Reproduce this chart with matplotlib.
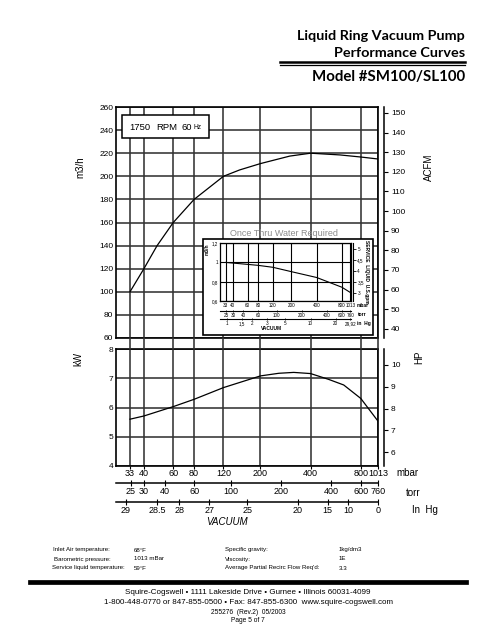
import matplotlib
matplotlib.use('Agg')
import matplotlib.pyplot as plt
import numpy as np
from matplotlib.patches import Rectangle
from matplotlib.lines import Line2D
from matplotlib.ticker import NullLocator
from matplotlib.transforms import blended_transform_factory

plt.rcParams['font.family'] = ['Liberation Sans', 'DejaVu Sans']

# ---------------- data ----------------
mbar_ticks = [33, 40, 60, 80, 120, 200, 400, 800, 1013]
mbar_labels = ['33', '40', '60', '80', '120', '200', '400', '800', '1013']
torr_ticks = [25, 30, 40, 60, 100, 200, 400, 600, 760]
torr_labels = ['25', '30', '40', '60', '100', '200', '400', '600', '760']
inhg_vac_ticks = [29, 28.5, 28, 27, 25, 20, 15, 10, 0]
inhg_vac_labels = ['29', '28.5', '28', '27', '25', '20', '15', '10', '0']
inhg_abs_ticks = [1, 1.5, 2, 3, 5, 10, 20, 29.92]
inhg_abs_labels = ['1', '1,5', '2', '3', '5', '10', '20', '29,92']

m3h_ticks = [60, 80, 100, 120, 140, 160, 180, 200, 220, 240, 260]
acfm_ticks = [40, 50, 60, 70, 80, 90, 100, 110, 120, 130, 140, 150]
kw_ticks = [4, 5, 6, 7, 8]
hp_ticks = [6, 7, 8, 9, 10]

capacity_mbar = [33, 40, 48, 60, 80, 100, 120, 150, 200, 300, 400, 600, 800, 1013]
capacity_m3h = [100, 120, 140, 160, 180, 191, 200, 205.5, 211, 217.5, 220, 218.5, 216.7, 215]

power_mbar = [33, 40, 60, 80, 120, 200, 258, 317, 400, 514, 632, 800, 1013]
power_kw = [5.60, 5.71, 6.03, 6.28, 6.68, 7.08, 7.17, 7.20, 7.16, 6.96, 6.77, 6.31, 5.54]

water_mbar = [33, 60, 80, 120, 200, 400, 800, 1013]
water_m3h = [1.0, 0.98, 0.97, 0.95, 0.905, 0.845, 0.745, 0.69]
water_ticks = [0.6, 0.8, 1.0, 1.2]
water_labels = ['0,6', '0,8', '1', '1,2']
gpm_ticks = [3, 3.5, 4, 4.5, 5]
gpm_labels = ['3', '3,5', '4', '4,5', '5']

# unit conversions
TORR_PER_MBAR = 0.750062
MBAR_PER_INHG = 33.8639
INHG_ATM = 29.92
M3H_PER_ACFM = 1.699
KW_PER_HP = 0.7457
M3H_PER_GPM = 0.22712

W, H = 495, 640
fig = plt.figure(figsize=(4.95, 6.4), dpi=100)
fig.patch.set_facecolor('white')


def fx(px):
    return px / W


def fy(py):
    return 1 - py / H


def axes_px(l, t, r, b, **kw):
    return fig.add_axes([fx(l), fy(b), (r - l) / W, (b - t) / H], **kw)


GRID = '#333333'
XLIM = (27.2, 1015)

# ---------------- top: capacity ----------------
ax1 = axes_px(116, 107, 378, 338)
ax1.set_xscale('log')
ax1.set_xlim(*XLIM)
ax1.set_ylim(60, 260)
ax1.set_xticks(mbar_ticks)
ax1.set_xticklabels([])
ax1.xaxis.set_minor_locator(NullLocator())
ax1.set_yticks(m3h_ticks)
ax1.tick_params(axis='both', length=0, labelsize=6, pad=2)
ax1.tick_params(axis='x', labelbottom=False)
ax1.grid(True, color=GRID, lw=1.15)
for s in ax1.spines.values():
    s.set_linewidth(1.2)
ax1.plot(capacity_mbar, capacity_m3h, color='black', lw=0.9, zorder=3)

sec1 = ax1.secondary_yaxis(1 + 6 / 262, functions=(lambda m: m / M3H_PER_ACFM,
                                                   lambda a: a * M3H_PER_ACFM))
sec1.set_yticks(acfm_ticks)
sec1.yaxis.set_minor_locator(NullLocator())
sec1.tick_params(length=3, width=0.8, labelsize=6, pad=2)
for s in sec1.spines.values():
    s.set_linewidth(1.1)

fig.text(fx(80), fy(167), 'm3/h', rotation=90, ha='center', va='center', fontsize=7)
fig.text(fx(429), fy(167), 'ACFM', rotation=90, ha='center', va='center', fontsize=7)

# RPM box
fig.add_artist(Rectangle((fx(121.7), fy(138.3)), (209.3 - 121.7) / W, (138.3 - 115) / H,
                         transform=fig.transFigure, facecolor='white', edgecolor='black',
                         lw=1.1, zorder=2))
for txt, px, fs in [('1750', 129.5, 6.8), ('RPM', 156, 6.8), ('60', 181.5, 6.8), ('Hz', 194, 4.8)]:
    fig.text(fx(px), fy(127.3), txt, ha='left', va='center', fontsize=fs, zorder=3)

# ---------------- bottom: power ----------------
ax2 = axes_px(116, 349, 378, 466)
ax2.set_xscale('log')
ax2.set_xlim(*XLIM)
ax2.set_ylim(4, 8)
ax2.set_xticks(mbar_ticks)
ax2.set_xticklabels(mbar_labels)
ax2.xaxis.set_minor_locator(NullLocator())
ax2.set_yticks(kw_ticks)
ax2.tick_params(axis='y', length=0, labelsize=6, pad=2)
ax2.tick_params(axis='x', length=2, width=0.8, labelsize=6.5, pad=0.5)
ax2.grid(True, color=GRID, lw=1.15)
for s in ax2.spines.values():
    s.set_linewidth(1.2)
ax2.plot(power_mbar, power_kw, color='black', lw=0.9, zorder=3)

sec2 = ax2.secondary_yaxis(1 + 6 / 262, functions=(lambda k: k / KW_PER_HP,
                                                   lambda h: h * KW_PER_HP))
sec2.set_yticks(hp_ticks)
sec2.yaxis.set_minor_locator(NullLocator())
sec2.tick_params(length=3, width=0.8, labelsize=6, pad=2)
for s in sec2.spines.values():
    s.set_linewidth(1.1)

fig.text(fx(78), fy(359), 'kW', rotation=90, ha='center', va='center', fontsize=7)
fig.text(fx(419), fy(357), 'HP', rotation=90, ha='center', va='center', fontsize=7)

# vertical lines through the gap
gap_tr = blended_transform_factory(ax1.transData, fig.transFigure)
for m in mbar_ticks:
    fig.add_artist(Line2D([m, m], [fy(338), fy(349)], transform=gap_tr, color=GRID, lw=1.15))

# torr axis
torr_ax = ax2.secondary_xaxis((466 - 483.3) / 117)
torr_ax.set_xticks([t / TORR_PER_MBAR for t in torr_ticks])
torr_ax.set_xticklabels(torr_labels)
torr_ax.xaxis.set_minor_locator(NullLocator())
torr_ax.tick_params(length=4, width=0.8, direction='inout', labelsize=6.5, pad=1)
for s in torr_ax.spines.values():
    s.set_linewidth(1.1)

# in Hg vacuum axis
hg_ax = ax2.secondary_xaxis((466 - 501.7) / 117)
hg_ax.set_xticks([(INHG_ATM - v) * MBAR_PER_INHG for v in inhg_vac_ticks])
hg_ax.set_xticklabels(inhg_vac_labels)
hg_ax.xaxis.set_minor_locator(NullLocator())
hg_ax.tick_params(length=4, width=0.8, direction='inout', labelsize=6.5, pad=1)
for s in hg_ax.spines.values():
    s.set_linewidth(1.1)

fig.text(fx(396), fy(472.7), 'mbar', ha='left', va='center', fontsize=7)
fig.text(fx(406), fy(492.7), 'torr', ha='left', va='center', fontsize=7)
fig.text(fx(412), fy(510), 'In  Hg', ha='left', va='center', fontsize=7)
fig.text(fx(227), fy(521.7), 'VACUUM', ha='center', va='center', fontsize=7, style='italic')

# ---------------- inset: service water ----------------
fig.add_artist(Rectangle((fx(202.5), fy(335.3)), (372.7 - 202.5) / W, (335.3 - 239) / H,
                         transform=fig.transFigure, facecolor='white', edgecolor='black',
                         lw=1.2, zorder=4))
fig.text(fx(284), fy(233), 'Once Thru Water Required', ha='center', va='center',
         fontsize=6.5, color='#8c8c8c', zorder=3)

axi = axes_px(220, 243, 350.5, 301.3, zorder=5)
axi.set_xscale('log')
axi.set_xlim(28.1, 1015)
axi.set_ylim(0.6, 1.2)
axi.set_xticks(mbar_ticks)
axi.set_xticklabels(mbar_labels)
axi.xaxis.set_minor_locator(NullLocator())
axi.set_yticks(water_ticks)
axi.set_yticklabels(water_labels)
axi.tick_params(axis='both', length=0, labelsize=3.3, pad=1.2)
axi.grid(True, color='black', lw=0.8)
for s in axi.spines.values():
    s.set_linewidth(0.9)
axi.plot(water_mbar, water_m3h, color='black', lw=0.8, zorder=3)

seci = axi.secondary_yaxis(1 + 2.6 / 130.5, functions=(lambda m: m / M3H_PER_GPM,
                                                       lambda g: g * M3H_PER_GPM))
seci.set_yticks(gpm_ticks)
seci.set_yticklabels(gpm_labels)
seci.yaxis.set_minor_locator(NullLocator())
seci.tick_params(length=2, width=0.6, labelsize=3.3, pad=1)
for s in seci.spines.values():
    s.set_linewidth(0.8)

itorr = axi.secondary_xaxis((301.3 - 310.7) / 58.3)
itorr.set_xticks([t / TORR_PER_MBAR for t in torr_ticks])
itorr.set_xticklabels(torr_labels)
itorr.xaxis.set_minor_locator(NullLocator())
itorr.tick_params(length=2, width=0.6, direction='inout', labelsize=3.3, pad=0.5)
for s in itorr.spines.values():
    s.set_linewidth(0.8)

ihg = axi.secondary_xaxis((301.3 - 319) / 58.3)
ihg.set_xticks([v * MBAR_PER_INHG for v in inhg_abs_ticks])
ihg.set_xticklabels(inhg_abs_labels)
ihg.xaxis.set_minor_locator(NullLocator())
ihg.tick_params(length=2, width=0.6, direction='inout', labelsize=3.3, pad=0.5)
for s in ihg.spines.values():
    s.set_linewidth(0.8)

ifs = dict(fontsize=3.5, weight='bold', zorder=6)
fig.text(fx(357), fy(305.5), 'mbar', ha='left', va='center', **ifs)
fig.text(fx(358), fy(314.5), 'torr', ha='left', va='center', **ifs)
fig.text(fx(357), fy(323.5), 'in  Hg', ha='left', va='center', **ifs)
fig.text(fx(272), fy(329), 'VACUUM', ha='center', va='center', **ifs)
fig.text(fx(207.5), fy(249), 'm3/h', rotation=90, ha='center', va='center', **ifs)
fig.text(fx(367), fy(272), 'SERVICE  LIQUID  U.S.gpm', rotation=270, ha='center',
         va='center', **ifs)

# ---------------- header ----------------
tfam = ['Lato', 'Liberation Sans', 'DejaVu Sans']
fig.text(fx(465), fy(35.7), 'Liquid Ring Vacuum Pump', ha='right', va='center',
         fontsize=10.4, weight='bold', family=tfam)
fig.text(fx(465), fy(52.7), 'Performance Curves', ha='right', va='center',
         fontsize=10.4, weight='bold', family=tfam)
fig.text(fx(465), fy(76.7), 'Model #SM100/SL100', ha='right', va='center',
         fontsize=10.8, weight='bold', family=tfam)
fig.add_artist(Line2D([fx(280), fx(465)], [fy(62), fy(62)], transform=fig.transFigure,
                      color='black', lw=1.8))
fig.add_artist(Line2D([fx(280), fx(465)], [fy(65.4), fy(65.4)], transform=fig.transFigure,
                      color='black', lw=0.9))

# ---------------- footer ----------------
nfs = 4.4
rows = [("Inlet Air temperature:", "68°F", "Specific gravity:", "1kg/dm3", 550),
        ("Barometric pressure:", "1013 mBar", "Viscosity:", "1E", 559),
        ("Service liquid temperature:", "59°F", "Average Partial Recirc Flow Req'd:", "3.3", 568)]
lefts = [52.7, 54, 52]
for (a, b, c, d, yy), lx in zip(rows, lefts):
    fig.text(fx(lx), fy(yy), a, ha='left', va='center', fontsize=nfs)
    fig.text(fx(134), fy(yy), b, ha='left', va='center', fontsize=nfs)
    fig.text(fx(225), fy(yy), c, ha='left', va='center', fontsize=nfs)
    fig.text(fx(339), fy(yy), d, ha='left', va='center', fontsize=nfs)

fig.add_artist(Line2D([fx(30), fx(466)], [fy(581.5), fy(581.5)], transform=fig.transFigure,
                      color='black', lw=3.4))
ffs = 5.8
fig.text(fx(248), fy(592), 'Squire-Cogswell • 1111 Lakeside Drive • Gurnee • Illinois 60031-4099',
         ha='center', va='center', fontsize=ffs)
fig.text(fx(248), fy(602.5), '1-800-448-0770 or 847-855-0500 • Fax: 847-855-6300  www.squire-cogswell.com',
         ha='center', va='center', fontsize=ffs)
fig.text(fx(248), fy(612), '255276  (Rev.2)  05/2003', ha='center', va='center', fontsize=4.8)
fig.text(fx(248), fy(621), 'Page 5 of 7', ha='center', va='center', fontsize=4.8)

fig.savefig('out.png', dpi=100, facecolor='white')
